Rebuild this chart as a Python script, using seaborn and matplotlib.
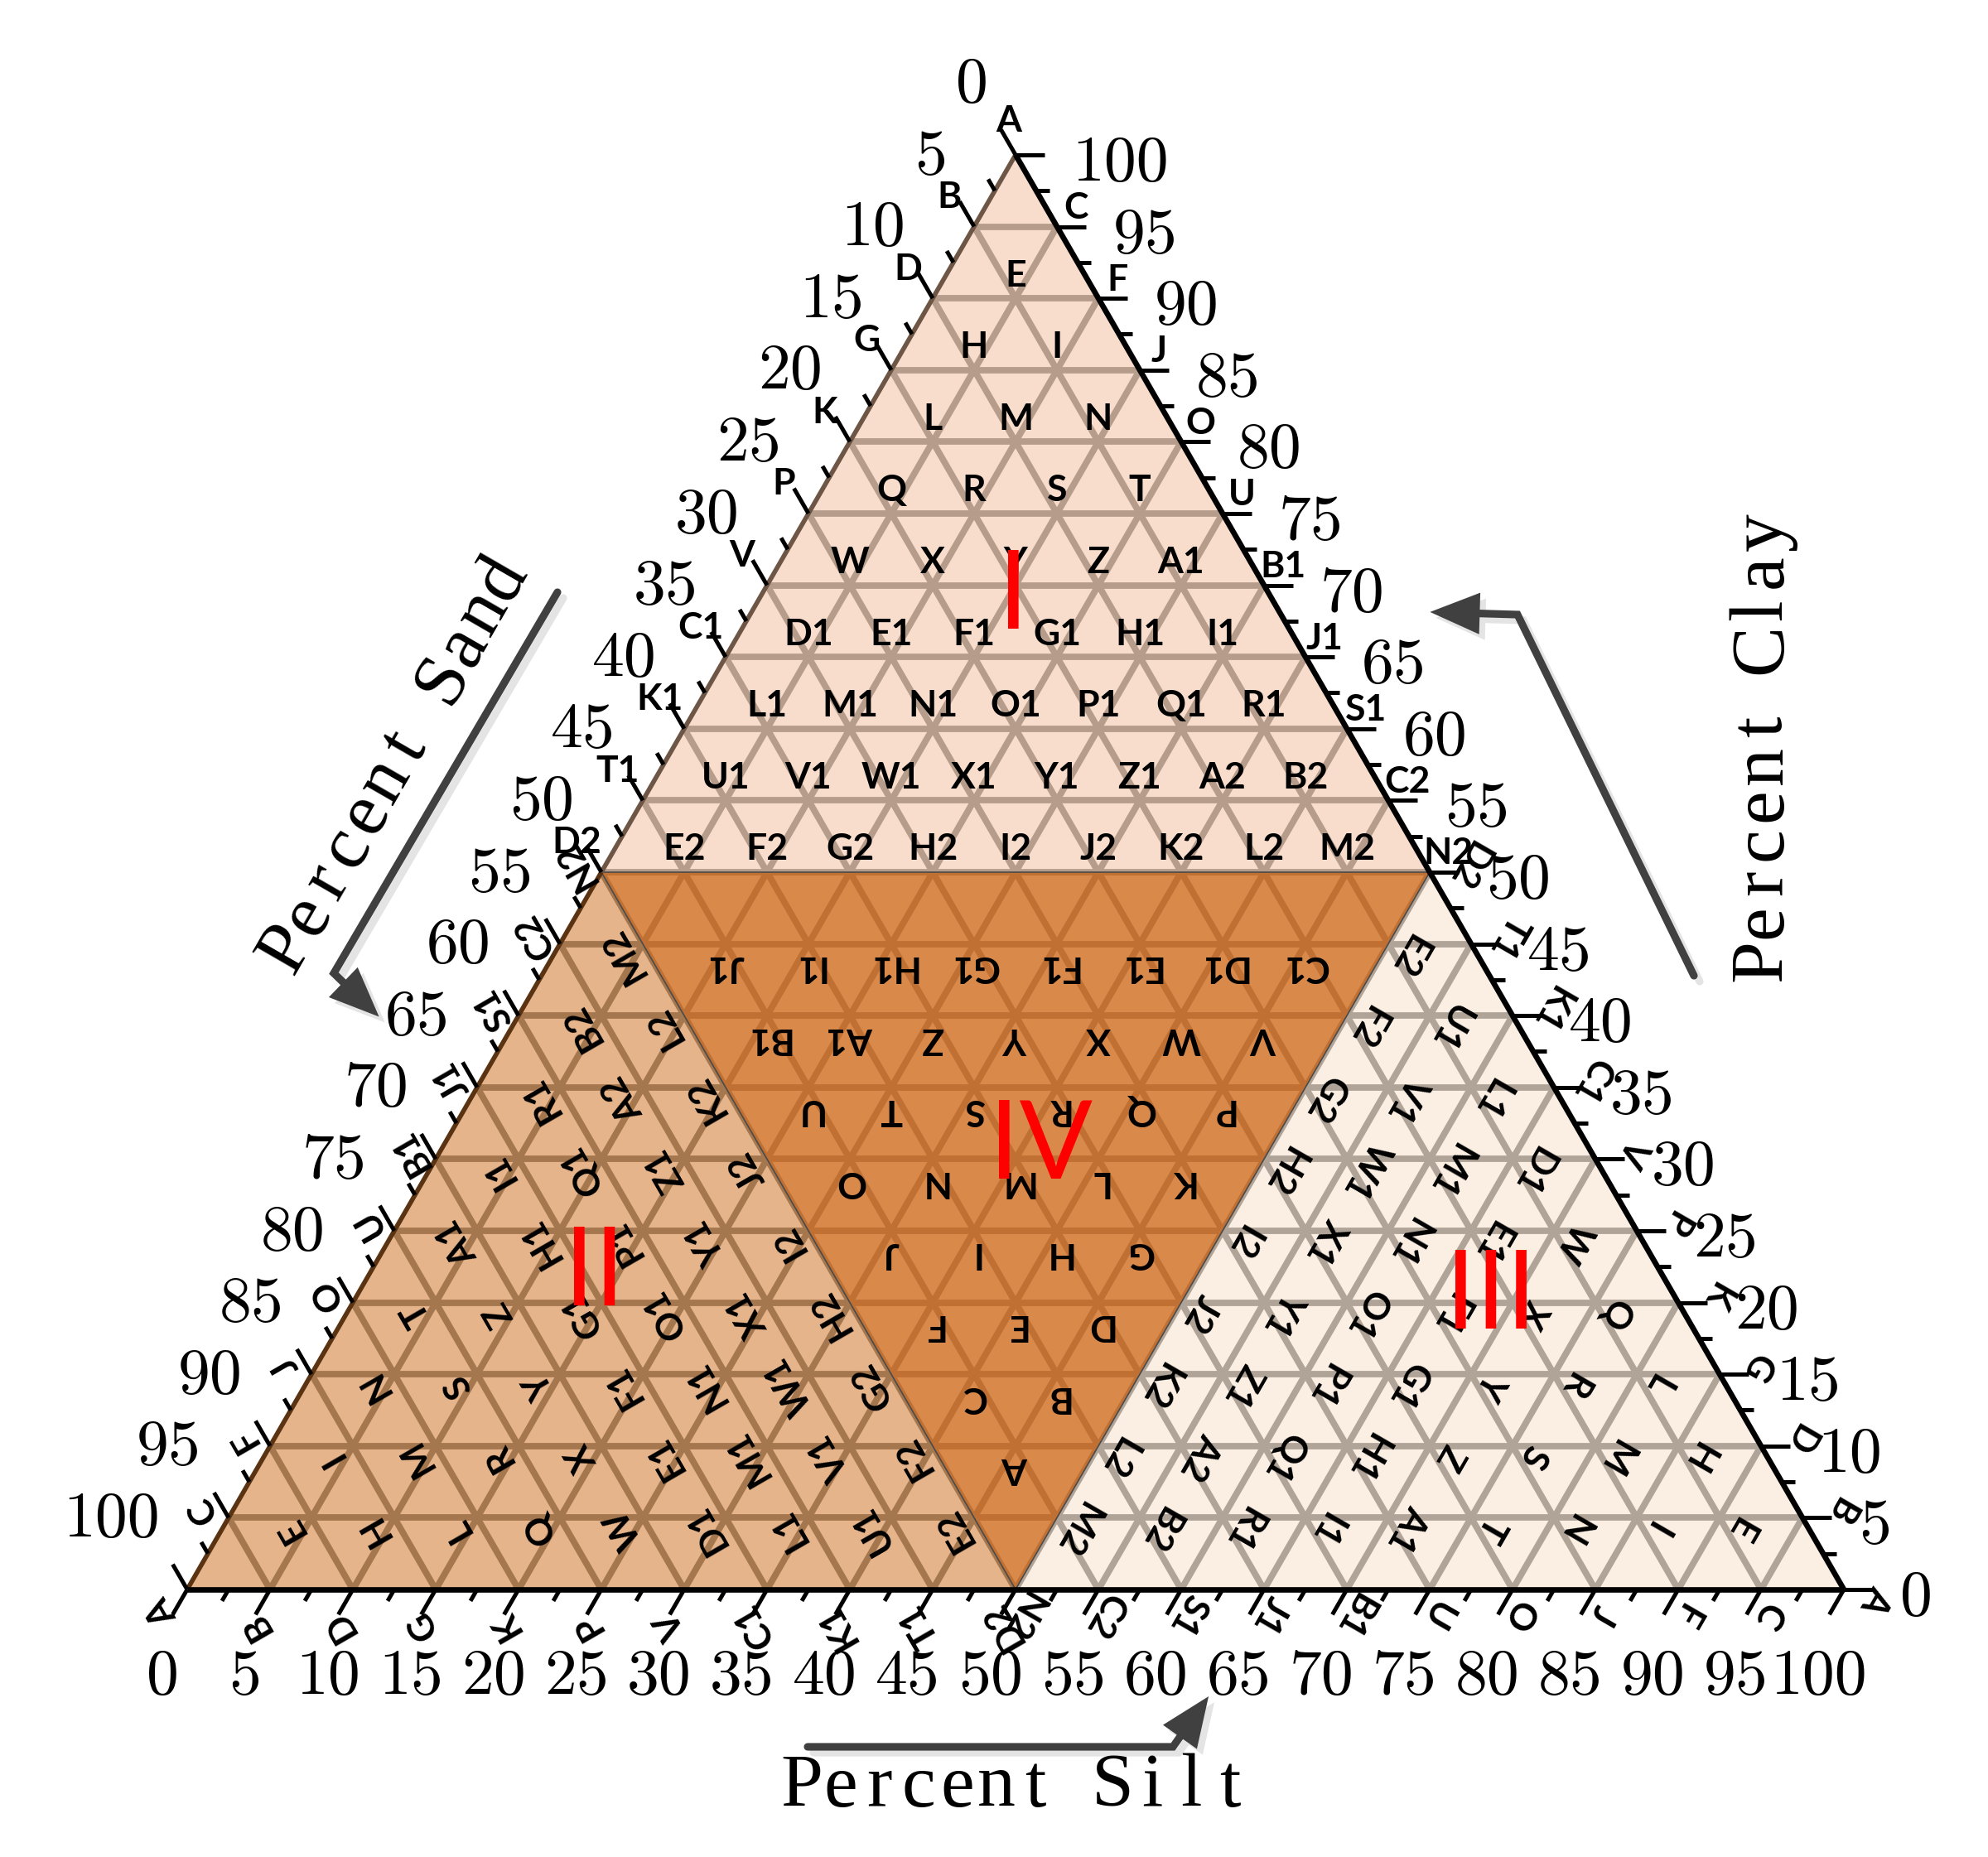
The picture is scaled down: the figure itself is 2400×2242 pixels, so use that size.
import numpy as np
import pandas as pd
import matplotlib
matplotlib.use("Agg")
import matplotlib.pyplot as plt
import seaborn as sns
from matplotlib.patches import Polygon
from matplotlib.collections import LineCollection

# ---------------- data ----------------
corner_rows = [
    ["A"],
    ["B", "C"],
    ["D", "E", "F"],
    ["G", "H", "I", "J"],
    ["K", "L", "M", "N", "O"],
    ["P", "Q", "R", "S", "T", "U"],
    ["V", "W", "X", "Y", "Z", "A1", "B1"],
    ["C1", "D1", "E1", "F1", "G1", "H1", "I1", "J1"],
    ["K1", "L1", "M1", "N1", "O1", "P1", "Q1", "R1", "S1"],
    ["T1", "U1", "V1", "W1", "X1", "Y1", "Z1", "A2", "B2", "C2"],
    ["D2", "E2", "F2", "G2", "H2", "I2", "J2", "K2", "L2", "M2", "N2"],
]
centre_rows = [
    ["A"],
    ["B", "C"],
    ["D", "E", "F"],
    ["G", "H", "I", "J"],
    ["K", "L", "M", "N", "O"],
    ["P", "Q", "R", "S", "T", "U"],
    ["V", "W", "X", "Y", "Z", "A1", "B1"],
    ["C1", "D1", "E1", "F1", "G1", "H1", "I1", "J1"],
]
sand_ticks = list(range(0, 101, 5))
clay_ticks = list(range(0, 101, 5))
silt_ticks = list(range(0, 101, 5))
grid_levels = list(range(5, 100, 5))
zone_names = ["I", "II", "III", "IV"]
axis_titles = ["Percent Sand", "Percent Clay", "Percent Silt"]

# ---------------- geometry ----------------
PX = 20.0                      # pixels per percent unit
X0, Y0 = 226.0, 1919.0         # pixel position of the Sand=100 corner
W, H = 2400, 2242
SQ = np.sqrt(3) / 2


def tern(clay, silt):
    return silt + clay / 2.0, clay * SQ


def px(X, Y):
    return (X - X0) / PX, (Y0 - Y) / PX


sns.set_theme(style="white")
plt.rcParams["font.family"] = ["DejaVu Sans"]

fig = plt.figure(figsize=(W / 200, H / 200), dpi=200)
ax = fig.add_axes([0, 0, 1, 1])
ax.set_axis_off()

regions = {
    "I":   dict(pts=[(100, 0), (50, 0), (50, 50)], fill="#f8ddcc", grid="#b69d8b"),
    "II":  dict(pts=[(0, 0), (50, 0), (0, 50)], fill="#e6b48a", grid="#a5774e"),
    "III": dict(pts=[(0, 100), (50, 50), (0, 50)], fill="#fbefe4", grid="#b0a498"),
    "IV":  dict(pts=[(50, 0), (50, 50), (0, 50)], fill="#d9894a", grid="#c07032"),
}

# grid lines (all three families), later clipped to each region
grid_segments = []
for v in grid_levels:
    grid_segments.append((tern(v, 0), tern(v, 100 - v)))          # const clay
    grid_segments.append((tern(0, v), tern(100 - v, v)))          # const silt
    grid_segments.append((tern(0, 100 - v), tern(100 - v, 0)))    # const sand
rows = []
for i, (a, b) in enumerate(grid_segments):
    rows.append(dict(x=a[0], y=a[1], line=i, o=0))
    rows.append(dict(x=b[0], y=b[1], line=i, o=1))
grid_df = pd.DataFrame(rows)

for name, reg in regions.items():
    poly = Polygon([tern(c, s) for c, s in reg["pts"]], closed=True,
                   facecolor=reg["fill"], edgecolor="none", zorder=1)
    ax.add_patch(poly)
    before = len(ax.lines)
    sns.lineplot(data=grid_df, x="x", y="y", units="line", estimator=None,
                 sort=False, color=reg["grid"], lw=2.8, ax=ax, legend=False)
    for ln in ax.lines[before:]:
        ln.set_clip_path(poly)
        ln.set_zorder(2)
        ln.set_solid_capstyle("butt")

# region boundaries (thin)
bounds = [(tern(50, 0), tern(50, 50)), (tern(50, 0), tern(0, 50)), (tern(50, 50), tern(0, 50))]
ax.add_collection(LineCollection(bounds, colors="#4a4a4a", linewidths=0.6, zorder=3))

# outer edges
ax.add_collection(LineCollection([(tern(100, 0), tern(50, 0))], colors="#6e5646", linewidths=2.0, zorder=4))
ax.add_collection(LineCollection([(tern(50, 0), tern(0, 0))], colors="#5a3312", linewidths=2.0, zorder=4))
ax.add_collection(LineCollection([(tern(100, 0), tern(0, 100)), (tern(0, 0), tern(0, 100))],
                                 colors="black", linewidths=2.4, zorder=4))

# ticks
ticks = []
MAJ, MIN = 35 / PX, 16 / PX
for c in np.arange(0, 100.01, 2.5):
    L = MAJ if abs(c % 5) < 1e-6 else MIN
    x, y = tern(c, 0)                     # left edge (silt = 0)
    ticks.append(((x, y), (x - 0.5 * L, y + SQ * L)))
    x, y = tern(c, 100 - c)               # right edge (sand = 0)
    ticks.append(((x, y), (x + L, y)))
    x, y = tern(0, c)                     # bottom edge (clay = 0)
    ticks.append(((x, y), (x - 0.5 * L, y - SQ * L)))
ax.add_collection(LineCollection(ticks, colors="black", linewidths=1.8, zorder=4, capstyle="butt"))

# tick numbers
NUM = dict(family=["cmr10", "DejaVu Serif"], fontsize=28, color="black", zorder=6)
for v in sand_ticks:
    x, y = tern(100 - v, 0)
    ax.text(x - 33 / PX, y + 64 / PX, str(v), ha="right", va="baseline", **NUM)
for v in clay_ticks:
    x, y = tern(v, 100 - v)
    ax.text(x + 68 / PX, y - 31 / PX, str(v), ha="left", va="baseline", **NUM)
for v in silt_ticks:
    x, y = tern(0, v)
    ax.text(x - 30 / PX, px(0, 2045)[1], str(v), ha="center", va="baseline", **NUM)

# cell labels
LAB = dict(family=["Lato", "DejaVu Sans"], weight="bold", fontsize=16, color="black", zorder=7)
CAP = 31.0


def put_labels(rows_, node, rot, edges):
    t = np.deg2rad(rot)
    c, s = np.cos(t), np.sin(t)
    for r, row in enumerate(rows_):
        for k, name in enumerate(row):
            clay, silt = node(r, k)
            x, y = tern(clay, silt)
            if edges and r == 0:
                ox, oy = -8, 43
            elif edges and k == 0:
                ox, oy = -30, 38
            elif edges and k == r:
                ox, oy = 23, 25
            else:
                ox, oy = 0, 30
            oy -= CAP / 2
            dx = (c * ox - s * oy) / PX
            dy = (s * ox + c * oy) / PX
            ax.text(x + dx, y + dy, name, rotation=rot, rotation_mode="anchor",
                    ha="center", va="baseline", **LAB)


put_labels(corner_rows, lambda r, k: (100 - 5 * r, 5 * k), 0, True)                  # I
put_labels(corner_rows, lambda r, k: (5 * k, 5 * (r - k)), 120, True)                # II
put_labels(corner_rows, lambda r, k: (5 * (r - k), 100 - 5 * r), -120, True)         # III
put_labels(centre_rows, lambda r, k: (10 + 5 * r, 45 - 5 * k), 180, False)           # IV

# zone numerals
ZN = dict(family=["Lato", "DejaVu Sans"], fontsize=47, color="#ff0000", zorder=8)
zone_pos = {"I": (1223, 712), "II": (718, 1529), "III": (1800, 1557), "IV": (1256, 1376)}
for zn in zone_names:
    X, Y = zone_pos[zn]
    x, y = px(X, Y + 47)
    ax.text(x, y, zn, ha="center", va="baseline", **ZN)

# axis titles (monospaced letter layout)
TT = dict(family=["Liberation Serif", "DejaVu Serif"], fontsize=33, color="black", zorder=6)


def mono_text(text, cX, cY, rot, adv=47.0, cap=61.0):
    t = np.deg2rad(rot)
    d = np.array([np.cos(t), np.sin(t)])
    u = np.array([-np.sin(t), np.cos(t)])
    c = np.array(px(cX, cY))
    n = len(text)
    for i, ch in enumerate(text):
        p = c + ((i - (n - 1) / 2) * adv * d - cap / 2 * u) / PX
        ax.text(p[0], p[1], ch, rotation=rot, rotation_mode="anchor",
                ha="center", va="baseline", **TT)


mono_text(axis_titles[0], 470, 918, 60)
mono_text(axis_titles[1], 2120, 901, 90)
mono_text(axis_titles[2], 1226, 2150, 0)

# arrows
def arrow(points, hl=55, hw=46):
    P = np.array([px(*p) for p in points])
    tip = P[-1]
    d = tip - P[-2]
    d = d / np.hypot(*d)
    base = tip - d * hl / PX
    perp = np.array([-d[1], d[0]])
    line = np.vstack([P[:-1], base])
    sh = np.array([7, -7]) / PX
    head = np.array([tip, base + perp * hw / 2 / PX, base - perp * hw / 2 / PX])
    ax.plot(line[:, 0] + sh[0], line[:, 1] + sh[1], color="#e4e4e4", lw=3.3,
            solid_capstyle="round", solid_joinstyle="miter", zorder=5)
    ax.add_patch(Polygon(head + sh, closed=True, color="#e4e4e4", zorder=5))
    ax.plot(line[:, 0], line[:, 1], color="#404040", lw=3.3,
            solid_capstyle="round", solid_joinstyle="miter", zorder=5)
    ax.add_patch(Polygon(head, closed=True, color="#404040", zorder=5))


arrow([(673, 715), (403, 1175), (455, 1225)])
arrow([(2045, 1178), (1832, 742), (1730, 739)])
arrow([(975, 2109), (1416, 2109), (1457, 2051)])

ax.set_xlim(-X0 / PX, (W - X0) / PX)
ax.set_ylim((Y0 - H) / PX, Y0 / PX)
fig.savefig("out.png", dpi=200, facecolor="white")
